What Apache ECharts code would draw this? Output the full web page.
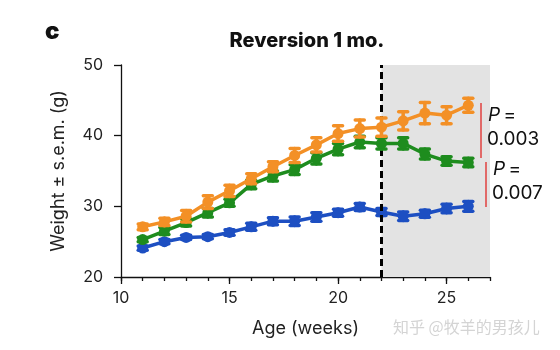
<!DOCTYPE html>
<html><head><meta charset="utf-8">
<script src="https://cdn.jsdelivr.net/npm/echarts@6/dist/echarts.min.js"></script>
<style>html,body{margin:0;padding:0;background:#fff}#c{width:560px;height:350px}</style>
</head><body><div id="c"></div>
<script>
const weeks = [11,12,13,14,15,16,17,18,19,20,21,22,23,24,25,26];
const orangeMean = [27.1,27.8,28.6,30.6,32.2,33.9,35.6,37.2,38.7,40.3,41.0,41.2,42.1,43.2,42.9,44.3];
const orangeSem  = [0.4,0.5,0.8,0.9,0.8,0.7,0.7,1.0,1.0,1.1,1.2,1.3,1.3,1.5,1.2,1.0];
const greenMean  = [25.3,26.5,27.7,29.1,30.5,33.1,34.3,35.2,36.8,38.1,39.1,38.9,38.9,37.4,36.4,36.2];
const greenSem   = [0.3,0.5,0.5,0.6,0.5,0.6,0.7,0.7,0.8,0.8,0.8,0.8,0.8,0.7,0.6,0.6];
const blueMean   = [24.1,25.0,25.6,25.7,26.3,27.1,27.9,27.9,28.5,29.1,29.9,29.2,28.6,28.95,29.7,30.0];
const blueSem    = [0.3,0.3,0.3,0.3,0.4,0.5,0.5,0.6,0.6,0.5,0.5,0.5,0.6,0.5,0.6,0.7];
const xTickLabels = [10,15,20,25];
const yTickLabels = [20,30,40,50];
const reversionWeek = 22;
const xEnd = 27;

const ORANGE = '#F39026', GREEN = '#1E8C1E', BLUE = '#1D4FC2';
const FONT = 'Inter';

function lineSeries(name, mean, color, z){
  return {name, type:'line', xAxisIndex:0, yAxisIndex:0, data: weeks.map((w,i)=>[w,mean[i]]),
    symbol:'circle', symbolSize:11, itemStyle:{color}, lineStyle:{color, width:3.5}, z, silent:true, animation:false};
}
function errSeries(mean, sem, color, z){
  return {type:'custom', xAxisIndex:0, yAxisIndex:0, z, silent:true, animation:false,
    data: weeks.map((w,i)=>[w, mean[i]-sem[i], mean[i]+sem[i]]),
    renderItem(params, api){
      const x = api.value(0);
      const p1 = api.coord([x, api.value(2)]), p2 = api.coord([x, api.value(1)]);
      const hw = 4.5, st = {stroke:color, lineWidth:3.5, lineCap:'round'};
      return {type:'group', children:[
        {type:'line', shape:{x1:p1[0],y1:p1[1],x2:p2[0],y2:p2[1]}, style:st},
        {type:'line', shape:{x1:p1[0]-hw,y1:p1[1],x2:p1[0]+hw,y2:p1[1]}, style:st},
        {type:'line', shape:{x1:p2[0]-hw,y1:p2[1],x2:p2[0]+hw,y2:p2[1]}, style:st}
      ]};
    }};
}

const chart = echarts.init(document.getElementById('c'), null, {renderer:'canvas'});
chart.setOption({
  animation:false,
  backgroundColor:'#fff',
  grid:{left:121, right:70, top:65, bottom:73},
  xAxis:[
    {type:'value', min:10, max:xEnd, interval:1,
     axisLine:{lineStyle:{color:'#111', width:1.3}},
     axisTick:{length:4, lineStyle:{color:'#111', width:1.3}},
     axisLabel:{show:false}, splitLine:{show:false}},
    {type:'value', min:10, max:xEnd, position:'bottom',
     axisLine:{show:false},
     axisTick:{length:7, customValues:xTickLabels, lineStyle:{color:'#111', width:1.3}},
     axisLabel:{customValues:xTickLabels, fontFamily:FONT, fontSize:16, color:'#222', margin:13},
     name:'Age (weeks)', nameLocation:'middle', nameGap:43,
     nameTextStyle:{fontFamily:FONT, fontSize:18, color:'#222'},
     splitLine:{show:false}}
  ],
  yAxis:{type:'value', min:20, max:50, interval:10,
    axisLine:{show:true, lineStyle:{color:'#111', width:1.3}},
    axisTick:{show:true, length:7, lineStyle:{color:'#111', width:1.3}},
    axisLabel:{fontFamily:FONT, fontSize:16, color:'#222', margin:18,
      formatter:v=> yTickLabels.includes(v) ? String(v) : ''},
    name:'Weight ± s.e.m. (g)', nameLocation:'middle', nameGap:53,
    nameTextStyle:{fontFamily:FONT, fontSize:18, color:'#222'},
    splitLine:{show:false}},
  series:[
    {type:'line', xAxisIndex:0, yAxisIndex:0, data:[], silent:true, z:1,
     markArea:{silent:true, itemStyle:{color:'#E3E3E3'}, data:[[{xAxis:reversionWeek},{xAxis:xEnd}]]},
     markLine:{silent:true, symbol:'none', label:{show:false},
       lineStyle:{color:'#000', width:3, type:[7,4]}, data:[{xAxis:reversionWeek}]}},
    errSeries(blueMean, blueSem, BLUE, 3), lineSeries('blue', blueMean, BLUE, 4),
    errSeries(greenMean, greenSem, GREEN, 5), lineSeries('green', greenMean, GREEN, 6),
    errSeries(orangeMean, orangeSem, ORANGE, 7), lineSeries('orange', orangeMean, ORANGE, 8)
  ],
  graphic:[
    {type:'text', z:100, left:45, top:20, style:{text:'c', font:'900 24px '+FONT, fill:'#111'}},
    {type:'text', z:100, x:307, y:41, style:{text:'Reversion 1 mo.', font:'800 20px '+FONT, fill:'#111', textAlign:'center', textVerticalAlign:'middle'}},
    {type:'line', z:100, shape:{x1:481,y1:103,x2:481,y2:158}, style:{stroke:'#E0403F', lineWidth:1.5}},
    {type:'line', z:100, shape:{x1:486,y1:162,x2:486,y2:207}, style:{stroke:'#E0403F', lineWidth:1.5}},
    {type:'text', z:100, x:488, y:106, style:{rich:{i:{fontStyle:'italic', fontFamily:FONT, fontSize:19, fill:'#111'}, n:{fontFamily:FONT, fontSize:19, fill:'#111'}}, text:'{i|P} {n|=}'}},
    {type:'text', z:100, x:487, y:130, style:{text:'0.003', font:'19px '+FONT, fill:'#111'}},
    {type:'text', z:100, x:493, y:160, style:{rich:{i:{fontStyle:'italic', fontFamily:FONT, fontSize:19, fill:'#111'}, n:{fontFamily:FONT, fontSize:19, fill:'#111'}}, text:'{i|P} {n|=}'}},
    {type:'text', z:100, x:492, y:184, style:{text:'0.007', font:'19px '+FONT, fill:'#111'}},
    {type:'text', z:100, x:393, y:319, style:{text:'知乎 @牧羊的男孩儿', font:'16px "Noto Sans CJK SC"', fill:'#D4D4D4'}}
  ]
});
</script></body></html>
